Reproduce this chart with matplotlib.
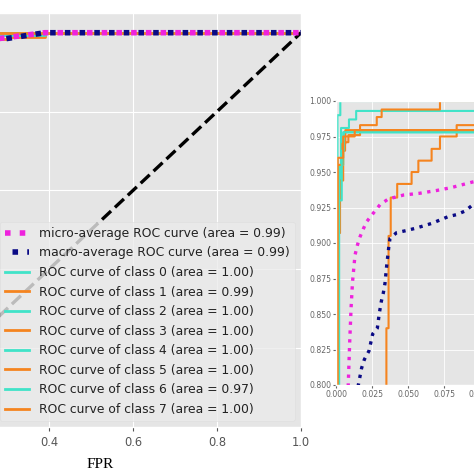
import matplotlib
matplotlib.use("Agg")
import matplotlib.pyplot as plt

plt.style.use("ggplot")

# ---------------- data ----------------
micro_fpr = [0.0, 0.004, 0.0085, 0.0095, 0.0105, 0.0115, 0.0132, 0.0150, 0.0167, 0.0190, 0.0213,
             0.0259, 0.0306, 0.0363, 0.0420, 0.0470, 0.0580, 0.0700, 0.0800, 0.0950, 0.1200,
             0.1500, 0.2000, 0.2800, 0.3900, 1.0]
micro_tpr = [0.0, 0.55, 0.800, 0.830, 0.855, 0.873, 0.8915, 0.899, 0.9044, 0.910, 0.915,
             0.921, 0.927, 0.931, 0.9325, 0.9338, 0.935, 0.937, 0.939, 0.943, 0.948,
             0.955, 0.965, 0.985, 1.0, 1.0]

macro_fpr = [0.0, 0.008, 0.0155, 0.0178, 0.0197, 0.0229, 0.0255, 0.0287, 0.0300, 0.0315, 0.0329,
             0.0340, 0.0352, 0.0366, 0.0375, 0.0421, 0.0486, 0.0549, 0.0606, 0.0664, 0.0722,
             0.0780, 0.0838, 0.0896, 0.0949, 0.1200, 0.1500, 0.2000, 0.2800, 0.3900, 1.0]
macro_tpr = [0.0, 0.50, 0.800, 0.812, 0.818, 0.824, 0.836, 0.840, 0.850, 0.859, 0.865,
             0.8715, 0.884, 0.8967, 0.9033, 0.9073, 0.9087, 0.9103, 0.912, 0.9138, 0.9162,
             0.9186, 0.920, 0.9225, 0.9268, 0.935, 0.945, 0.960, 0.982, 1.0, 1.0]

class_fpr = [
    [0, 0.001, 0.001, 0.003, 0.003, 1.0],
    [0, 0.035, 0.035, 0.0365, 0.0365, 0.038, 0.038, 0.0425, 0.0425, 0.0525, 0.0525, 0.0572,
     0.0572, 0.0664, 0.0664, 0.0722, 0.0722, 0.0838, 0.0838, 0.30, 0.30, 0.39, 0.39, 1.0],
    [0, 0.002, 0.002, 0.0035, 0.0035, 0.009, 0.009, 0.014, 0.014, 0.39, 0.39, 1.0],
    [0, 0.0016, 0.0016, 0.0028, 0.0028, 0.005, 0.005, 0.0063, 0.0063, 0.0086, 0.0086, 0.0167,
     0.0167, 0.0283, 0.0283, 0.0317, 0.0317, 0.0722, 0.0722, 1.0],
    [0, 0.0022, 0.0022, 0.005, 0.005, 0.25, 0.25, 1.0],
    [0, 0.0008, 0.0008, 0.0045, 0.0045, 0.0065, 0.0065, 0.25, 0.25, 1.0],
    [0, 0.0018, 0.0018, 0.004, 0.004, 0.0055, 0.0055, 0.22, 0.22, 1.0],
    [0, 0.0012, 0.0012, 0.005, 0.005, 0.013, 0.013, 0.20, 0.20, 1.0],
]
class_tpr = [
    [0, 0.80, 0.99, 0.99, 1.0, 1.0],
    [0, 0.79, 0.840, 0.840, 0.905, 0.905, 0.932, 0.932, 0.9416, 0.9416, 0.950, 0.950,
     0.958, 0.958, 0.9663, 0.9663, 0.975, 0.975, 0.983, 0.983, 0.989, 0.989, 1.0, 1.0],
    [0, 0.80, 0.94, 0.94, 0.981, 0.981, 0.987, 0.987, 0.993, 0.993, 1.0, 1.0],
    [0, 0.79, 0.907, 0.907, 0.944, 0.944, 0.965, 0.965, 0.971, 0.971, 0.976, 0.976,
     0.983, 0.983, 0.9887, 0.9887, 0.994, 0.994, 1.0, 1.0],
    [0, 0.80, 0.955, 0.955, 0.978, 0.978, 1.0, 1.0],
    [0, 0.79, 0.955, 0.955, 0.97, 0.97, 0.9795, 0.9795, 1.0, 1.0],
    [0, 0.80, 0.93, 0.93, 0.965, 0.965, 0.978, 0.978, 1.0, 1.0],
    [0, 0.79, 0.96, 0.96, 0.975, 0.975, 0.9795, 0.9795, 1.0, 1.0],
]
class_auc = ["1.00", "0.99", "1.00", "1.00", "1.00", "1.00", "0.97", "1.00"]
micro_auc = "0.99"
macro_auc = "0.99"

main_xticks = [0.4, 0.6, 0.8, 1.0]
main_yticks = [0.2, 0.4, 0.6, 0.8, 1.0]
zoom_xticks = [0.0, 0.025, 0.05, 0.075, 0.1]
zoom_yticks = [0.8, 0.825, 0.85, 0.875, 0.9, 0.925, 0.95, 0.975, 1.0]

AQUA = "#40E3C8"
ORANGE = "#F5841F"
PINK = "#EE22DD"
NAVY = "#0A0A85"
class_colors = [AQUA, ORANGE] * 4

# ---------------- figure ----------------
W = H = 474
fig = plt.figure(figsize=(4.74, 4.74), dpi=100)
fig.patch.set_facecolor("white")

ax1 = fig.add_axes([-119 / W, (H - 427) / H, 420 / W, 414 / H])
ax2 = fig.add_axes([336 / W, (H - 385) / H, 288 / W, 284 / H])

# main panel
ax1.plot(micro_fpr, micro_tpr, color=PINK, linestyle=":", linewidth=4, zorder=3,
         label=f"micro-average ROC curve (area = {micro_auc})")
ax1.plot(macro_fpr, macro_tpr, color=NAVY, linestyle=(1.3, (1, 1.65)), linewidth=4, zorder=3,
         label=f"macro-average ROC curve (area = {macro_auc})")
for i in range(8):
    ax1.plot(class_fpr[i], class_tpr[i], color=class_colors[i], linewidth=2, zorder=2,
             label=f"ROC curve of class {i} (area = {class_auc[i]})")
ax1.plot([0, 1], [0, 1], "k--", linewidth=2.4, zorder=2)
ax1.set_xlim(0, 1)
ax1.set_ylim(0, 1.05)
ax1.set_xticks(main_xticks)
ax1.set_yticks(main_yticks)
ax1.set_xticklabels([f"{v:.1f}" for v in main_xticks], fontsize=8.3)
ax1.tick_params(axis="y", left=False, labelleft=False)
ax1.tick_params(colors="#555555", length=3)
ax1.set_xlabel("FPR", family="Liberation Serif", fontsize=11, color="black")
ax1.xaxis.set_label_coords((100 + 119) / 420, -0.075)
leg = ax1.legend(loc="lower right", fontsize=8.9, handlelength=2.0, labelspacing=0.53,
                 framealpha=0.8, facecolor="#EBEBEB", edgecolor="#DDDDDD")
for t in leg.get_texts():
    t.set_color("#222222")

# zoom panel
for i in range(8):
    ax2.plot(class_fpr[i], class_tpr[i], color=class_colors[i], linewidth=1.5, zorder=2)
ax2.plot(micro_fpr, micro_tpr, color=PINK, linestyle=":", linewidth=2.4, zorder=3)
ax2.plot(macro_fpr, macro_tpr, color=NAVY, linestyle=":", linewidth=2.4, zorder=3)
ax2.set_xlim(0, 0.2)
ax2.set_ylim(0.8, 1.0)
ax2.set_xticks(zoom_xticks)
ax2.set_yticks(zoom_yticks)
ax2.set_xticks([0.125, 0.15, 0.175, 0.2], minor=True)
ax2.set_xticklabels([f"{v:.3f}" for v in zoom_xticks], fontsize=5.6)
ax2.set_yticklabels([f"{v:.3f}" for v in zoom_yticks], fontsize=5.6)
ax2.tick_params(colors="#666666", length=2, pad=1.5)
ax2.tick_params(which="minor", length=0)
ax2.grid(True, which="both", color="white", linewidth=0.6)

fig.savefig("out.png", dpi=100)
